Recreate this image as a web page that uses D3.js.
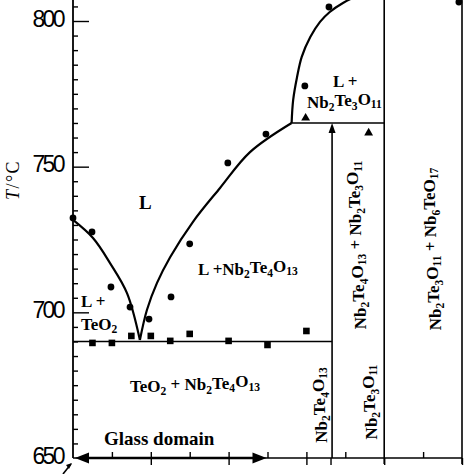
<!DOCTYPE html>
<html>
<head>
<meta charset="utf-8">
<script src="https://cdn.jsdelivr.net/npm/d3@7"></script>
<style>
  body { margin: 0; background: #fff; }
  svg { display: block; }
  text { fill: #000; }
  .lbl { font-family: "Liberation Serif", "Times New Roman", serif; font-weight: bold; }
</style>
</head>
<body>
<script>
// --- data (x = mol% NbO2.5, T in degC) ---
const liquidusX = [0, 2.44, 4.88, 7.33, 9.77, 12.6, 15.0, 19.9, 24.8, 29.8, 32.9, 49.6];
const liquidusT = [732.4, 727.6, 708.7, 701.8, 697.7, 705.3, 723.5, 751.3, 761.2, 777.7, 804.8, 806.5];

const solidusX = [2.5, 5, 7.5, 10, 12.5, 15, 20, 25, 30];
const solidusT = [689.5, 689.5, 691.9, 691.9, 690.2, 692.6, 690.2, 688.8, 693.6];

const periX = [29.9, 38.0];
const periT = [766.7, 761.6];

// fitted curves as drawn in the figure
const leftBranch = [[0, 731.7], [2.57, 725.5], [4.76, 716.9], [6.94, 706.6], [8.6, 690.5]];
const rightBranch = [[8.6, 690.5], [9.5, 700.8], [10.8, 710.1], [12.5, 719.0], [15.4, 731.0],
                     [18.9, 742.7], [22.75, 755.0], [28.1, 765.0]];
const upperBranch = [[28.1, 765.0], [28.3, 772.9], [28.8, 780.8], [29.4, 787.7], [30.5, 794.5],
                     [31.75, 799.7], [33.0, 803.1], [34.7, 806.2], [36.5, 808.5], [38.5, 810]];

const eutecticT = 690, peritecticT = 765;
const compNb2Te4O13 = 33.3, compNb2Te3O11 = 40, xMax = 50;

const yMajor = [650, 700, 750, 800];
const yMinor = d3.range(655, 810, 5).filter(v => v % 50 !== 0);
const xMinor = [5, 15, 25, 35, 45];
const xMajor = [10, 20, 30];

const W = 474, H = 474;
const svg = d3.select("body").append("svg").attr("width", W).attr("height", H);

const x = d3.scaleLinear().domain([0, 50]).range([73, 462]);
const y = d3.scaleLinear().domain([650, 800]).range([458, 21]);
const topT = y.invert(0);

const plot = svg.append("g");
plot.append("clipPath").attr("id", "clip").append("rect")
    .attr("x", 0).attr("y", 0).attr("width", W).attr("height", y(650) + 10);

// y axis (ticks point inward)
plot.append("g").attr("transform", `translate(${x(0)},0)`)
    .call(d3.axisRight(y).tickValues(yMinor).tickSize(5).tickFormat(""))
    .call(g => g.select(".domain").remove())
    .selectAll("line").attr("stroke-width", 1.4);
plot.append("g").attr("transform", `translate(${x(0)},0)`)
    .call(d3.axisRight(y).tickValues(yMajor.slice(1)).tickSize(16).tickFormat(""))
    .call(g => g.select(".domain").remove())
    .selectAll("line").attr("stroke-width", 1.4);
plot.append("line")
    .attr("x1", x(0)).attr("x2", x(0)).attr("y1", 0).attr("y2", y(650))
    .attr("stroke", "#000").attr("stroke-width", 1.8);

svg.selectAll(".ylab").data(yMajor).join("text")
    .attr("x", 63).attr("y", d => y(d) - 2.5).attr("dy", "0.35em")
    .attr("text-anchor", "end")
    .style("font-family", "'Liberation Sans', Arial, sans-serif")
    .style("font-size", "23px").style("letter-spacing", "-2.6px")
    .text(d => d);

svg.append("text")
    .attr("transform", `translate(19,180) rotate(-90)`)
    .attr("text-anchor", "middle")
    .style("font-family", "'Liberation Serif', 'Times New Roman', serif")
    .style("font-size", "18px").style("letter-spacing", "1.5px")
    .call(t => {
      t.append("tspan").style("font-style", "italic").text("T");
      t.append("tspan").text("/°C");
    });

// x axis
plot.append("line")
    .attr("x1", x(0)).attr("x2", x(xMax)).attr("y1", y(650)).attr("y2", y(650))
    .attr("stroke", "#000").attr("stroke-width", 1.5);
plot.append("g").attr("transform", `translate(0,${y(650)})`)
    .call(d3.axisTop(x).tickValues(xMinor.concat(xMajor)).tickSize(6).tickFormat(""))
    .call(g => g.select(".domain").remove())
    .selectAll("line").attr("stroke-width", 1.4);
plot.append("g").attr("transform", `translate(0,${y(650)})`)
    .call(d3.axisBottom(x).tickValues(xMajor.concat([compNb2Te4O13 - 0.2, compNb2Te3O11, xMax])).tickSize(7).tickFormat(""))
    .call(g => g.select(".domain").remove())
    .selectAll("line").attr("stroke-width", 1.4);

// small arrow at the bottom-left corner
svg.append("path")
    .attr("d", `M${x(0) - 10},${H} L${x(0) - 2},${y(650) + 6}`)
    .attr("stroke", "#000").attr("stroke-width", 1.6).attr("fill", "none");
svg.append("path")
    .attr("d", `M${x(0) - 1},${y(650) + 5} l-6,2 l3,4 z`).attr("fill", "#000");

// phase boundaries
const stroke = (sel, w) => sel.attr("stroke", "#000").attr("stroke-width", w).attr("fill", "none");

plot.append("line").call(stroke, 1.6)
    .attr("x1", x(0)).attr("x2", x(compNb2Te4O13)).attr("y1", y(eutecticT)).attr("y2", y(eutecticT));
plot.append("line").call(stroke, 1.6)
    .attr("x1", x(28.1)).attr("x2", x(compNb2Te3O11)).attr("y1", y(peritecticT)).attr("y2", y(peritecticT));
plot.append("line").call(stroke, 1.6)
    .attr("x1", x(compNb2Te4O13)).attr("x2", x(compNb2Te4O13))
    .attr("y1", y(650)).attr("y2", y(peritecticT) + 6);
plot.append("path").attr("fill", "#000")
    .attr("d", `M${x(compNb2Te4O13)},${y(peritecticT)} l-3.5,10 l7,0 z`);
plot.append("line").call(stroke, 1.6)
    .attr("x1", x(compNb2Te3O11)).attr("x2", x(compNb2Te3O11)).attr("y1", y(650) + 6).attr("y2", y(topT));
plot.append("line").call(stroke, 1.6)
    .attr("x1", x(xMax)).attr("x2", x(xMax)).attr("y1", y(650) + 6).attr("y2", y(topT));

const line = d3.line().x(d => x(d[0])).y(d => y(d[1])).curve(d3.curveCatmullRom.alpha(0.5));
[leftBranch, rightBranch, upperBranch].forEach(b =>
  plot.append("path").datum(b).attr("d", line).call(stroke, 2.2).attr("clip-path", "url(#clip)"));

// glass domain arrow
const gy = y(650);
plot.append("line").call(stroke, 2.6)
    .attr("x1", x(0) + 8).attr("x2", x(25) - 10).attr("y1", gy).attr("y2", gy);
plot.append("path").attr("fill", "#000")
    .attr("d", `M${x(0) + 2},${gy} l14,-5.5 l0,11 z`);
plot.append("path").attr("fill", "#000")
    .attr("d", `M${x(25) - 1},${gy} l-14,-5.5 l0,11 z`);

// data markers
plot.selectAll(".liq").data(d3.zip(liquidusX, liquidusT)).join("circle")
    .attr("cx", d => x(d[0])).attr("cy", d => y(d[1])).attr("r", 3.4).attr("fill", "#000")
    .attr("clip-path", "url(#clip)");
plot.selectAll(".sol").data(d3.zip(solidusX, solidusT)).join("rect")
    .attr("x", d => x(d[0]) - 3.3).attr("y", d => y(d[1]) - 3.3)
    .attr("width", 6.6).attr("height", 6.6).attr("fill", "#000");
plot.selectAll(".per").data(d3.zip(periX, periT)).join("path")
    .attr("transform", d => `translate(${x(d[0])},${y(d[1])})`)
    .attr("d", d3.symbol(d3.symbolTriangle, 34)).attr("fill", "#000");

// labels: "_" marks a subscript
function formula(sel, s) {
  const parts = s.split(/(_\d+)/).filter(p => p.length);
  let low = false;
  parts.forEach(p => {
    if (p[0] === "_") {
      sel.append("tspan").attr("dy", low ? null : "0.28em").style("font-size", "0.68em").text(p.slice(1));
      low = true;
    } else {
      sel.append("tspan").attr("dy", low ? "-0.28em" : null).text(p);
      low = false;
    }
  });
}
function label(s, px, py, size, rot, anchor) {
  const t = svg.append("text").attr("class", "lbl")
      .attr("transform", `translate(${px},${py})` + (rot ? " rotate(-90)" : ""))
      .attr("text-anchor", anchor || "start")
      .style("font-size", size + "px");
  formula(t, s);
}
label("L", 139, 209, 19);
label("L +Nb_2Te_4O_13", 198, 275, 17);
label("L +", 81, 307, 17);
label("TeO_2", 81, 330, 17);
label("TeO_2 + Nb_2Te_4O_13", 130, 392, 17);
label("Glass domain", 104, 445, 19);
label("L +", 333, 87, 17);
label("Nb_2Te_3O_11", 307, 108, 17);
label("Nb_2Te_4O_13 + Nb_2Te_3O_11", 366, 245, 17, true, "middle");
label("Nb_2Te_3O_11 + Nb_6TeO_17", 441, 249, 17, true, "middle");
label("Nb_2Te_4O_13", 327, 405, 17, true, "middle");
label("Nb_2Te_3O_11", 377, 402, 17, true, "middle");
</script>
</body>
</html>
